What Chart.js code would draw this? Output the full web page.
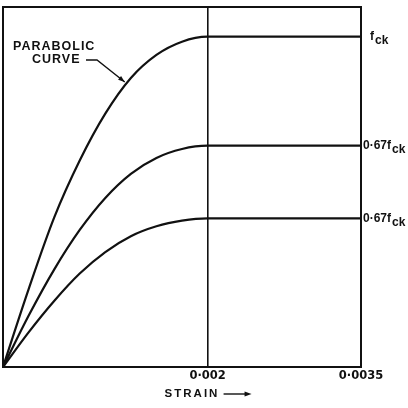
<!DOCTYPE html>
<html>
<head>
<meta charset="utf-8">
<title>Stress-strain curves</title>
<script src="https://cdn.jsdelivr.net/npm/chart.js@4.4.1/dist/chart.umd.min.js"></script>
<style>
  html, body { margin: 0; padding: 0; background: #fff; }
  #wrap { width: 408px; height: 408px; position: relative; }
</style>
</head>
<body>
<div id="wrap"><canvas id="stress"></canvas></div>
<script>
// strain values (x)
var strain = [0, 0.00025, 0.0005, 0.00075, 0.001, 0.00125, 0.0015, 0.00175, 0.002, 0.0035];
// stress as a fraction of fck (y)
var curveTop = [0, 0.235, 0.452, 0.625, 0.767, 0.875, 0.945, 0.985, 1.0, 1.0];
var curveMid = [0, 0.155, 0.295, 0.415, 0.512, 0.585, 0.633, 0.66, 0.67, 0.67];
var curveLow = [0, 0.105, 0.2, 0.283, 0.348, 0.396, 0.426, 0.443, 0.45, 0.45];

// axis ticks and labels
var strainTicks = [0.002, 0.0035];
var strainTickLabels = ['0\u00b7002', '0\u00b70035'];
var levelValues = [1.0, 0.67, 0.45];
var levelLabels = ['f', '0\u00b767f', '0\u00b767f'];
var levelSub = 'ck';
var axisTitle = 'STRAIN';
var noteLines = ['PARABOLIC', 'CURVE'];
var notePoint = [0.0012, 0.86];

var INK = '#111';

function toPoints(ys) {
    return strain.map(function (x, i) { return { x: x, y: ys[i] }; });
}

function curve(ys) {
    return {
        data: toPoints(ys),
        borderColor: INK,
        borderWidth: 2.2,
        pointRadius: 0,
        fill: false,
        cubicInterpolationMode: 'monotone'
    };
}

// frame, level labels, note and axis title
var decor = {
    id: 'decor',
    afterDraw: function (chart) {
        var ctx = chart.ctx;
        var a = chart.chartArea;
        var xs = chart.scales.x;
        var ys = chart.scales.y;
        ctx.save();

        // box round the plot
        ctx.strokeStyle = INK;
        ctx.lineWidth = 2;
        ctx.strokeRect(a.left, a.top, a.right - a.left, a.bottom - a.top);

        // right hand labels, f with subscript ck
        ctx.fillStyle = INK;
        ctx.textBaseline = 'middle';
        ctx.textAlign = 'left';
        levelValues.forEach(function (v, i) {
            var y = ys.getPixelForValue(v);
            var x = a.right + (i === 0 ? 9 : 2);
            ctx.font = 'bold 12px "Liberation Sans", Arial, sans-serif';
            ctx.fillText(levelLabels[i], x, y);
            var w = ctx.measureText(levelLabels[i]).width;
            ctx.fillText(levelSub, x + w + 1, y + 4);
        });

        // parabolic curve note with leader
        ctx.font = 'bold 12.5px "Liberation Sans", Arial, sans-serif';
        ctx.letterSpacing = '1px';
        ctx.fillText(noteLines[0], 13, 47);
        ctx.fillText(noteLines[1], 32, 60);
        var tx = xs.getPixelForValue(notePoint[0]) - 1;
        var ty = ys.getPixelForValue(notePoint[1]) - 1;
        ctx.lineWidth = 1.4;
        ctx.beginPath();
        ctx.moveTo(86, 60);
        ctx.lineTo(97, 60);
        ctx.lineTo(tx, ty);
        ctx.stroke();
        var ang = Math.atan2(ty - 60, tx - 97);
        ctx.beginPath();
        ctx.moveTo(tx, ty);
        ctx.lineTo(tx - 7 * Math.cos(ang - 0.35), ty - 7 * Math.sin(ang - 0.35));
        ctx.lineTo(tx - 7 * Math.cos(ang + 0.35), ty - 7 * Math.sin(ang + 0.35));
        ctx.closePath();
        ctx.fill();

        // axis title with arrow
        var bx = xs.getPixelForValue(strainTicks[0]);
        var by = a.bottom + 27;
        ctx.font = 'bold 11.5px "Liberation Sans", Arial, sans-serif';
        ctx.letterSpacing = '2px';
        ctx.fillText(axisTitle, bx - 43, by);
        ctx.letterSpacing = '0px';
        ctx.lineWidth = 1.4;
        ctx.beginPath();
        ctx.moveTo(bx + 16, by);
        ctx.lineTo(bx + 40, by);
        ctx.stroke();
        ctx.beginPath();
        ctx.moveTo(bx + 44, by);
        ctx.lineTo(bx + 37, by - 2.5);
        ctx.lineTo(bx + 37, by + 2.5);
        ctx.closePath();
        ctx.fill();

        ctx.restore();
    }
};

var chart = new Chart(document.getElementById('stress'), {
    type: 'line',
    data: {
        datasets: [curve(curveTop), curve(curveMid), curve(curveLow)]
    },
    options: {
        responsive: true,
        maintainAspectRatio: false,
        animation: false,
        layout: { padding: { left: 3, top: 7, right: 0, bottom: 0 } },
        plugins: {
            legend: { display: false },
            tooltip: { enabled: false }
        },
        scales: {
            x: {
                type: 'linear',
                min: 0,
                max: 0.0035,
                afterBuildTicks: function (s) {
                    s.ticks = strainTicks.map(function (v) { return { value: v }; });
                },
                afterFit: function (s) { s.height = 41; },
                ticks: {
                    autoSkip: false,
                    maxRotation: 0,
                    padding: 2,
                    color: INK,
                    font: { family: '"DejaVu Sans", sans-serif', size: 11.5, weight: 'bold' },
                    callback: function (v, i) { return strainTickLabels[i]; }
                },
                grid: { color: INK, lineWidth: 1.6, drawTicks: false },
                border: { display: true, color: INK, width: 2 }
            },
            y: {
                type: 'linear',
                position: 'right',
                min: 0,
                max: 1.09,
                afterFit: function (s) { s.width = 47; },
                ticks: { display: false },
                grid: { display: false },
                border: { display: false }
            }
        }
    },
    plugins: [decor]
});
</script>
</body>
</html>
